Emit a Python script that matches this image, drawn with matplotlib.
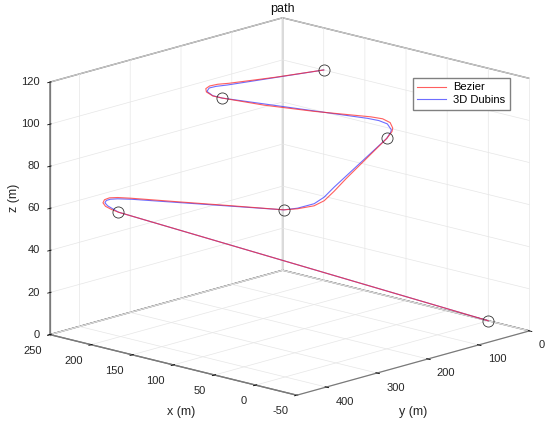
import numpy as np
import matplotlib
matplotlib.use('Agg')
import matplotlib.pyplot as plt
from matplotlib.ticker import NullFormatter
from mpl_toolkits.mplot3d import proj3d

plt.rcParams['font.family'] = ['Liberation Sans', 'DejaVu Sans']
plt.rcParams['axes.unicode_minus'] = False

# ---------------- data ----------------
wp_x = [0, 197, 96, 0, 200, 200]
wp_y = [0, 409, 247, 200, 200, 0]
wp_z = [0, 60, 60, 100, 100, 100]

dub_x = [0, 197, 208.5, 218.8, 227.5, 232.0, 232.4, 228.6, 219.1, 96,
         83.2, 67.7, 58.4, 49.0, 0,
         11.8, 16.9, 33.5, 46.6, 59.3, 200,
         211.7, 225.4, 231.8, 231.2, 227.0, 200]
dub_y = [0, 409, 401.6, 395.0, 386.2, 376.3, 367.7, 359.3, 348.5, 247,
         240.8, 233.2, 228.6, 224.0, 200,
         173.2, 163.4, 144.5, 139.8, 141.9, 200,
         199.7, 188.8, 173.9, 161.7, 145.6, 0]
dub_z = [0, 60, 60, 60, 60, 60, 60, 60, 60, 60,
         61.6, 64.7, 68.4, 73.8, 100,
         100, 100, 100, 100, 100, 100,
         100, 100, 100, 100, 100, 100]

bez_x = [0, 197, 207.6, 219.0, 228.8, 235.0, 236.2, 231.6, 221.5, 180.5, 139.7, 96,
         83.3, 67.8, 58.4, 49.1, 38.1, 0,
         3.4, 12.6, 20.2, 34.7, 48.4, 60.7, 109.9, 156.4, 200,
         210.8, 224.3, 232.4, 236.2, 235.0, 230.0, 214.0, 200]
bez_y = [0, 409, 405.3, 398.9, 388.0, 374.9, 363.2, 354.4, 344.8, 312.8, 280.5, 247,
         240.7, 233.1, 228.5, 224.0, 218.6, 200,
         191.7, 169.2, 155.4, 137.0, 129.6, 133.2, 165.0, 187.9, 200,
         200.7, 191.6, 179.7, 166.1, 152.1, 137.9, 71.4, 0]
bez_z = [0, 60, 60, 60, 60, 60, 60, 60, 60, 60, 60, 60,
         61.3, 63.7, 66.7, 71.8, 78.4, 100,
         100, 100, 100, 100, 100, 100, 100, 100, 100,
         100, 100, 100, 100, 100, 100, 100, 100]

x_ticks = [-50, 0, 50, 100, 150, 200, 250]
y_ticks = [0, 100, 200, 300, 400]
z_ticks = [0, 20, 40, 60, 80, 100, 120]
x_lim = (-50, 250)
y_lim = (0, 458)
z_lim = (0, 120)

# ---------------- figure ----------------
W, H = 550, 421
fig = plt.figure(figsize=(W / 100, H / 100), dpi=100)
fig.patch.set_facecolor('white')
ax = fig.add_subplot(projection='3d', proj_type='ortho')
ax.set_position([0.1, 0.1, 0.8, 0.8])
ax.set_facecolor('white')

ax.plot(dub_x, dub_y, dub_z, color='#3030ff', lw=0.8, alpha=0.7, label='3D Dubins')
ax.plot(bez_x, bez_y, bez_z, color='#ff2a2a', lw=0.8, alpha=0.75, label='Bezier')
ax.plot(wp_x, wp_y, wp_z, 'o', ms=8, mfc='none', mec='#333333', mew=0.6)

ax.set_xlim(*x_lim)
ax.set_ylim(*y_lim)
ax.set_zlim(*z_lim)
ax.set_xticks(x_ticks)
ax.set_yticks(y_ticks)
ax.set_zticks(z_ticks)
ax.view_init(elev=15.1, azim=133.3)
ax.set_box_aspect((1, 1, 0.771))
ax.zaxis.set_ticks_position('upper')

edge = '#7a7a7a'
for axis in (ax.xaxis, ax.yaxis, ax.zaxis):
    axis.set_pane_color((1, 1, 1, 1))
    axis.pane.set_edgecolor(edge)
    axis.pane.set_linewidth(1.0)
    axis.line.set_color(edge)
    axis.line.set_linewidth(0.9)
    axis._axinfo['grid']['color'] = '#e6e6e6'
    axis._axinfo['grid']['linewidth'] = 0.5
    axis._axinfo['tick']['color'] = edge
    axis._axinfo['tick']['linewidth'] = {True: 0.6, False: 0.4}
    axis._axinfo['tick']['inward_factor'] = 0.12
    axis._axinfo['tick']['outward_factor'] = 0.06
    axis.set_major_formatter(NullFormatter())

handles, labels = ax.get_legend_handles_labels()
order = [1, 0]
ax.legend([handles[i] for i in order], [labels[i] for i in order],
          loc='upper left', bbox_to_anchor=(413 / W, 1 - 78 / H),
          bbox_transform=fig.transFigure, fontsize=8, frameon=True,
          fancybox=False, edgecolor='#808080', framealpha=1,
          handlelength=2.6, borderpad=0.4, labelspacing=0.25,
          handletextpad=0.6, borderaxespad=0)

txt = '#262626'
fig.text(282.7 / W, 1 - 9 / H, 'path', ha='center', va='center', fontsize=9,
         color='#111111')
fig.text(181.5 / W, 1 - 412 / H, 'x (m)', ha='center', va='center', fontsize=9, color=txt)
fig.text(413 / W, 1 - 412 / H, 'y (m)', ha='center', va='center', fontsize=9, color=txt)
fig.text(14 / W, 1 - 198 / H, 'z (m)', ha='center', va='center', fontsize=9,
         rotation=90, color=txt)

# ---- fit the projected box onto the target frame ----
tl = (49.7, H - 334.3)
tr = (529.7, H - 330.7)
tt = (282.7, H - 18.0)
tf = (297.2, H - 395.0)


def px(x, y, z):
    xs, ys, _ = proj3d.proj_transform(np.array([x]), np.array([y]), np.array([z]), ax.get_proj())
    return ax.transData.transform([[xs[0], ys[0]]])[0]


for _ in range(2):
    fig.canvas.draw()
    pos = ax.get_position()
    S = pos.width * W
    cx = (pos.x0 + pos.x1) / 2 * W
    cy = (pos.y0 + pos.y1) / 2 * H
    pl = px(x_lim[1], y_lim[1], z_lim[0])
    pr = px(x_lim[0], y_lim[0], z_lim[0])
    pt = px(x_lim[1], y_lim[0], z_lim[1])
    pf = px(x_lim[0], y_lim[1], z_lim[0])
    kx = (tr[0] - tl[0]) / (pr[0] - pl[0])
    ky = (tt[1] - tf[1]) / (pt[1] - pf[1])
    k = 0.5 * (kx + ky)
    ncx = 0.5 * ((tl[0] - k * (pl[0] - cx)) + (tr[0] - k * (pr[0] - cx)))
    ncy = 0.5 * ((tt[1] - k * (pt[1] - cy)) + (tf[1] - k * (pf[1] - cy)))
    nS = k * S
    ax.set_position([(ncx - nS / 2) / W, (ncy - nS / 2) / H, nS / W, nS / H])

fig.canvas.draw()
# tick labels placed at the projected tick positions
for t in x_ticks:
    dx, dy = px(t, y_lim[1], z_lim[0])
    fig.text((dx - 8.5) / W, (dy - 16) / H, f'{t}', ha='right', va='center',
             fontsize=8, color=txt)
for t in y_ticks:
    dx, dy = px(x_lim[0], t, z_lim[0])
    fig.text((dx + 9) / W, (dy - 14.5) / H, f'{t}', ha='left', va='center',
             fontsize=8, color=txt)
for t in z_ticks:
    dx, dy = px(x_lim[1], y_lim[1], t)
    fig.text((dx - 10) / W, dy / H, f'{t}', ha='right', va='center',
             fontsize=8, color=txt)

fig.savefig('out.png', dpi=100, facecolor='white')
